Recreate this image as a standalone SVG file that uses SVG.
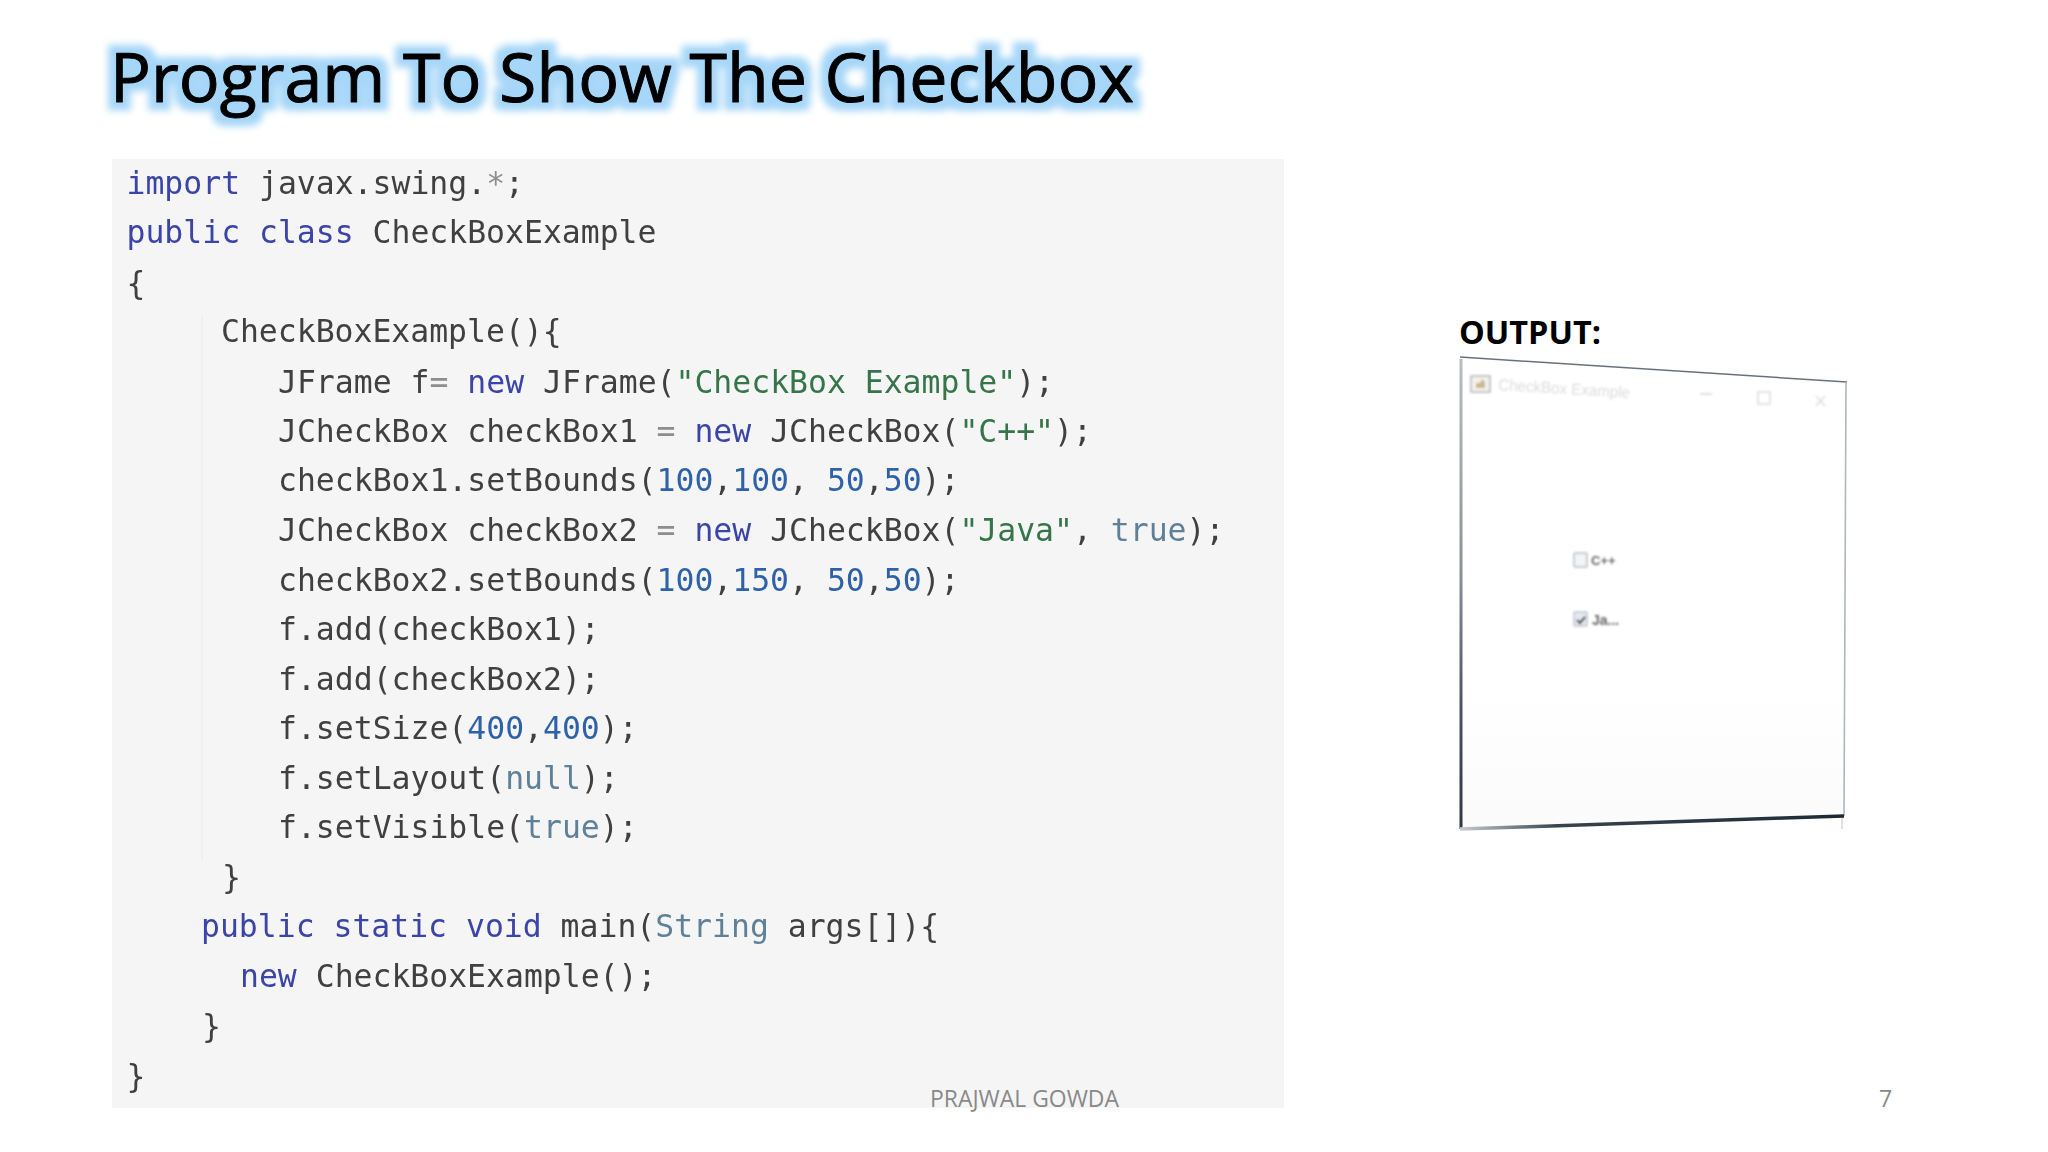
<svg xmlns="http://www.w3.org/2000/svg" width="2048" height="1152" viewBox="0 0 2048 1152">
<defs>
<filter id="glow" x="-5%" y="-40%" width="110%" height="180%" color-interpolation-filters="sRGB">
<feMorphology in="SourceAlpha" operator="dilate" radius="8" result="d"/>
<feGaussianBlur in="d" stdDeviation="3.5" result="b"/>
<feFlood flood-color="#a6d6f8"/>
<feComposite in2="b" operator="in" result="g"/>
<feMerge><feMergeNode in="g"/><feMergeNode in="SourceGraphic"/></feMerge>
</filter>
<filter id="soft" x="-5%" y="-5%" width="110%" height="110%"><feGaussianBlur stdDeviation="0.5"/></filter>
<filter id="soft2" x="-20%" y="-20%" width="140%" height="140%"><feGaussianBlur stdDeviation="1"/></filter>
<linearGradient id="bottomEdge" gradientUnits="userSpaceOnUse" x1="1460" y1="829" x2="1844" y2="816">
<stop offset="0" stop-color="#c8ccd0"/><stop offset="0.25" stop-color="#39444e"/><stop offset="1" stop-color="#1e2a36"/>
</linearGradient>
<linearGradient id="leftEdge" gradientUnits="userSpaceOnUse" x1="1461" y1="357" x2="1461" y2="829">
<stop offset="0" stop-color="#b8bec4"/><stop offset="0.45" stop-color="#8a929a"/><stop offset="0.75" stop-color="#4a545e"/><stop offset="1" stop-color="#2e3842"/>
</linearGradient>
<linearGradient id="lower" x1="0" y1="0" x2="0" y2="1"><stop offset="0.7" stop-color="#ffffff"/><stop offset="1" stop-color="#fbfbfb"/></linearGradient>
</defs>
<style>
.c{font-family:"DejaVu Sans Mono","Liberation Mono",monospace;font-size:31.45px;fill:#404040;white-space:pre}
.k{fill:#3a44a8}.n{fill:#2f62a8}.s{fill:#357548}.l{fill:#5f8099}.o{fill:#8e8e8e}
.f{font-family:"Open Sans","Liberation Sans",sans-serif;font-size:23px;fill:#898989}
</style>
<rect width="2048" height="1152" fill="#ffffff"/>
<text id="title" x="110" y="102" font-family="'Open Sans','Noto Sans',sans-serif" font-size="68" fill="#000" stroke="#000" stroke-width="1" stroke-linejoin="round" textLength="1024" lengthAdjust="spacingAndGlyphs" filter="url(#glow)">Program To Show The Checkbox</text>
<g id="code">
<rect x="112" y="159" width="1172" height="949" fill="#f5f5f5"/>
<path d="M202 315V860" stroke="#ececec" stroke-width="1.5"/>
<g filter="url(#soft)">
<text class="c" x="126.500" y="194"><tspan class="k">import</tspan> javax.swing.<tspan class="o">*</tspan>;</text>
<text class="c" x="126.500" y="243"><tspan class="k">public class</tspan> CheckBoxExample</text>
<text class="c" x="126.500" y="294">{</text>
<text class="c" x="221" y="342">CheckBoxExample(){</text>
<text class="c" x="278" y="393">JFrame f<tspan class="o">=</tspan> <tspan class="k">new</tspan> JFrame(<tspan class="s">"CheckBox Example"</tspan>);</text>
<text class="c" x="278" y="442">JCheckBox checkBox1 <tspan class="o">=</tspan> <tspan class="k">new</tspan> JCheckBox(<tspan class="s">"C++"</tspan>);</text>
<text class="c" x="278" y="491">checkBox1.setBounds(<tspan class="n">100</tspan>,<tspan class="n">100</tspan>, <tspan class="n">50</tspan>,<tspan class="n">50</tspan>);</text>
<text class="c" x="278" y="541">JCheckBox checkBox2 <tspan class="o">=</tspan> <tspan class="k">new</tspan> JCheckBox(<tspan class="s">"Java"</tspan>, <tspan class="l">true</tspan>);</text>
<text class="c" x="278" y="591">checkBox2.setBounds(<tspan class="n">100</tspan>,<tspan class="n">150</tspan>, <tspan class="n">50</tspan>,<tspan class="n">50</tspan>);</text>
<text class="c" x="278" y="640">f.add(checkBox1);</text>
<text class="c" x="278" y="690">f.add(checkBox2);</text>
<text class="c" x="278" y="739">f.setSize(<tspan class="n">400</tspan>,<tspan class="n">400</tspan>);</text>
<text class="c" x="278" y="789">f.setLayout(<tspan class="l">null</tspan>);</text>
<text class="c" x="278" y="838">f.setVisible(<tspan class="l">true</tspan>);</text>
<text class="c" x="222" y="888">}</text>
<text class="c" x="201" y="937"><tspan class="k">public static void</tspan> main(<tspan class="l">String</tspan> args[]){</text>
<text class="c" x="240" y="987"><tspan class="k">new</tspan> CheckBoxExample();</text>
<text class="c" x="202" y="1037">}</text>
<text class="c" x="126.500" y="1087">}</text>
</g>
</g>
<text id="output-label" x="1459" y="344" font-family="'Open Sans','Liberation Sans',sans-serif" font-weight="700" font-size="32" fill="#000" textLength="142" lengthAdjust="spacingAndGlyphs">OUTPUT:</text>
<g id="window">
<polygon points="1460,357 1847,382 1844,816 1460,829" fill="url(#lower)"/>
<g filter="url(#soft)">
<path d="M1460 357L1847 382" stroke="#68727c" stroke-width="1.5" fill="none"/>
<rect x="1459.500" y="359" width="3" height="470" fill="url(#leftEdge)"/>
<path d="M1846 382L1844 816" stroke="#b0b6bc" stroke-width="1.6" fill="none"/>
<path d="M1842 816V829" stroke="#d4d8dc" stroke-width="1.5" fill="none"/>
<path d="M1460 829L1844 816" stroke="url(#bottomEdge)" stroke-width="3.5" fill="none"/>
</g>
<g filter="url(#soft2)">
<rect x="1471" y="376" width="19" height="16" fill="#f2f2ee" stroke="#b4b4b4" stroke-width="1.5"/>
<path d="M1476 388h9v-6l-3-3l-2 4h-4z" fill="#c8b890"/>
<text x="1498" y="390" font-family="'Liberation Sans',sans-serif" font-size="16" fill="#dcdcdc" transform="rotate(3.5 1498 390)" textLength="132" lengthAdjust="spacingAndGlyphs">CheckBox Example</text>
<path d="M1700 394h12" stroke="#d4d4d4" stroke-width="1.5"/>
<rect x="1758" y="392" width="12" height="12" fill="none" stroke="#dcdcdc" stroke-width="1.5"/>
<path d="M1816 396l9 10M1825 396l-9 10" stroke="#dcdcdc" stroke-width="1.5"/>
<rect x="1574" y="553" width="13" height="14" rx="1" fill="#f2f4f6" stroke="#b8bcc2" stroke-width="1.5"/>
<text x="1591" y="565" font-family="'Liberation Sans',sans-serif" font-size="13" font-weight="700" fill="#666">C++</text>
<rect x="1574" y="612" width="13" height="14" rx="1" fill="#e6e8f0" stroke="#c0c4cc" stroke-width="1.5"/>
<path d="M1577 620l3 3l5-6" stroke="#333" stroke-width="2" fill="none"/>
<text x="1592" y="625" font-family="'Liberation Sans',sans-serif" font-size="14" font-weight="700" fill="#666">Ja...</text>
</g>
</g>
<text id="footer" class="f" x="930" y="1107" textLength="189" lengthAdjust="spacingAndGlyphs">PRAJWAL GOWDA</text>
<text id="page" class="f" x="1879" y="1107">7</text>
</svg>
